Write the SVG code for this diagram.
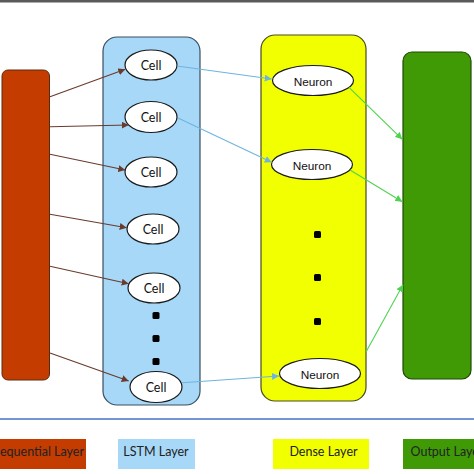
<svg xmlns="http://www.w3.org/2000/svg" width="474" height="474" viewBox="0 0 474 474">
<defs>
<style>
.cell{fill:#fff;stroke:#1a1a1a;stroke-width:1.2}
.ct{font-family:Lato,"Open Sans","Liberation Sans",sans-serif;font-size:12.5px;fill:#111;text-anchor:middle}
.nt{font-family:"Liberation Sans",Arial,sans-serif;font-size:11.8px;fill:#111;text-anchor:middle}
.lt{font-family:Lato,"Open Sans","Liberation Sans",sans-serif;font-size:12.5px;fill:#222}
.dot{fill:#000}
.br{stroke:#6a3a2c;stroke-width:1.1;fill:none;marker-end:url(#mb)}
.bl{stroke:#6fb4de;stroke-width:1.1;fill:none;marker-end:url(#ml)}
.gr{stroke:#4fd34f;stroke-width:1.1;fill:none;marker-end:url(#mg)}
</style>
<marker id="mb" viewBox="0 0 10 10" refX="10" refY="5" markerWidth="7" markerHeight="7" markerUnits="userSpaceOnUse" orient="auto"><path d="M0,0L10,5L0,10z" fill="#6a3a2c"/></marker>
<marker id="ml" viewBox="0 0 10 10" refX="10" refY="5" markerWidth="7" markerHeight="7" markerUnits="userSpaceOnUse" orient="auto"><path d="M0,0L10,5L0,10z" fill="#6fb4de"/></marker>
<marker id="mg" viewBox="0 0 10 10" refX="10" refY="5" markerWidth="7" markerHeight="7" markerUnits="userSpaceOnUse" orient="auto"><path d="M0,0L10,5L0,10z" fill="#4fd34f"/></marker>
</defs>
<rect x="0" y="0" width="474" height="474" fill="#fff"/>
<rect x="0" y="0" width="474" height="2.5" fill="#5a5a5a"/>

<g id="sequential-layer"><rect x="2" y="70" width="47.5" height="310" rx="6" fill="#c43c00" stroke="#5a2a10" stroke-width="1"/></g>
<g id="lstm-layer"><rect x="103" y="37" width="97" height="368" rx="14" fill="#a7d8f7" stroke="#3a4e60" stroke-width="1.2"/></g>
<g id="dense-layer"><rect x="261" y="35" width="105" height="366" rx="14" fill="#f2ff00" stroke="#4a4a20" stroke-width="1.2"/></g>
<g id="output-layer"><rect x="403" y="52" width="68" height="327" rx="9" fill="#3f9a06" stroke="#1e4a05" stroke-width="1.2"/></g>

<g id="cell1"><ellipse class="cell" cx="151" cy="65" rx="26" ry="15"/><text class="ct" x="151" y="70">Cell</text></g>
<g id="cell2"><ellipse class="cell" cx="151" cy="117" rx="26" ry="15.5"/><text class="ct" x="151" y="122">Cell</text></g>
<g id="cell3"><ellipse class="cell" cx="151" cy="172" rx="26" ry="15"/><text class="ct" x="151" y="177">Cell</text></g>
<g id="cell4"><ellipse class="cell" cx="153" cy="229" rx="26" ry="15"/><text class="ct" x="153" y="234">Cell</text></g>
<g id="cell5"><ellipse class="cell" cx="154" cy="288" rx="26" ry="15"/><text class="ct" x="154" y="293">Cell</text></g>
<g id="cell6"><ellipse class="cell" cx="156" cy="387" rx="26" ry="15.5"/><text class="ct" x="156" y="392">Cell</text></g>
<g id="lstm-dots"><rect class="dot" x="152.5" y="312" width="7" height="7" rx="1.5"/><rect class="dot" x="152.5" y="335" width="7" height="7" rx="1.5"/><rect class="dot" x="152.5" y="358" width="7" height="7" rx="1.5"/></g>

<g id="neuron1"><ellipse class="cell" cx="313" cy="80.5" rx="40.5" ry="15"/><text class="nt" x="313" y="86">Neuron</text></g>
<g id="neuron2"><ellipse class="cell" cx="312" cy="164.5" rx="40.5" ry="15"/><text class="nt" x="312" y="170">Neuron</text></g>
<g id="neuron3"><ellipse class="cell" cx="320" cy="373.5" rx="40.5" ry="15"/><text class="nt" x="320" y="379">Neuron</text></g>
<g id="dense-dots"><rect class="dot" x="314" y="231" width="7" height="7" rx="1.5"/><rect class="dot" x="314" y="274" width="7" height="7" rx="1.5"/><rect class="dot" x="314" y="318" width="7" height="7" rx="1.5"/></g>

<g id="connectors">
<line class="br" x1="50" y1="96.7" x2="125.3" y2="69.3"/>
<line class="br" x1="50" y1="126.7" x2="128.7" y2="125"/>
<line class="br" x1="50" y1="154.3" x2="125.3" y2="170"/>
<line class="br" x1="50" y1="214.3" x2="126.7" y2="227.7"/>
<line class="br" x1="50" y1="266.3" x2="128.7" y2="283.7"/>
<line class="br" x1="50" y1="353" x2="128.7" y2="381"/>
<line class="bl" x1="177" y1="66" x2="271.7" y2="79"/>
<line class="bl" x1="178" y1="118" x2="271.7" y2="162.3"/>
<line class="bl" x1="182" y1="382.7" x2="279" y2="376"/>
<line class="gr" x1="349" y1="87.3" x2="402.3" y2="139.3"/>
<line class="gr" x1="350" y1="170" x2="402.3" y2="201.7"/>
<line class="gr" x1="366" y1="352" x2="403" y2="284.7"/>
</g>

<line x1="0" y1="419" x2="474" y2="419" stroke="#4472c4" stroke-width="1.5"/>

<g id="legend-sequential"><rect x="0" y="439" width="86" height="30" fill="#c43c00"/><text class="lt" x="0" y="456">equential Layer</text></g>
<g id="legend-lstm"><rect x="118" y="439" width="77" height="30" fill="#a7d8f7"/><text class="lt" x="156" y="456" text-anchor="middle">LSTM Layer</text></g>
<g id="legend-dense"><rect x="273" y="439" width="96" height="30" fill="#f2ff00"/><text class="lt" x="323.5" y="456" text-anchor="middle">Dense Layer</text></g>
<g id="legend-output"><rect x="403" y="439" width="71" height="30" fill="#3f9a06"/><text class="lt" x="410.5" y="456">Output Layer</text></g>
</svg>
